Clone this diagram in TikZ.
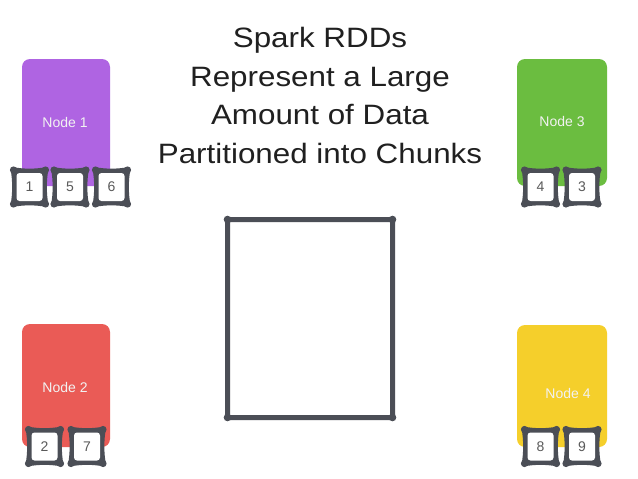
\documentclass[tikz,border=0pt]{standalone}
\usepackage{fontspec}
\setmainfont{Liberation Sans}
\newfontfamily\titlefont[FakeStretch=1.12]{Liberation Sans}
\definecolor{nodepurple}{HTML}{AF64E2}
\definecolor{nodegreen}{HTML}{6BBD40}
\definecolor{nodered}{HTML}{EA5B56}
\definecolor{nodeyellow}{HTML}{F5CF2B}
\definecolor{framegray}{HTML}{4B4E56}
\definecolor{numgray}{HTML}{5A5A5A}
\definecolor{titleblack}{HTML}{202020}
\pgfdeclarelayer{frames}
\pgfdeclarelayer{chunks}
\pgfsetlayers{main,frames,chunks}
\begin{document}
\begin{tikzpicture}[x=1pt,y=-1pt,
  nodebox/.style={rectangle, rounded corners=8pt, minimum width=88pt, inner sep=0pt, outer sep=0pt, draw=none},
  nodelabel/.style={inner sep=0pt, text=white!90!gray, font=\fontsize{14}{16}\selectfont},
  chunk/.style={rectangle, minimum width=26pt, minimum height=28pt, inner sep=0pt, outer sep=0pt,
    fill=white, rounded corners=3pt, text=numgray, font=\fontsize{14}{16}\selectfont},
  chunkframe/.style={fill=framegray},
  rddbox/.style={rectangle, minimum width=165pt, minimum height=198pt, inner sep=0pt, outer sep=0pt,
    draw=framegray, line width=5pt, rounded corners=2pt},
  titletext/.style={align=center, inner sep=0pt, text=titleblack, font=\titlefont\fontsize{28}{38.5}\selectfont}
]
\useasboundingbox (0,0) rectangle (638,479);
\fill[white] (0,0) rectangle (638,479);

% title
\node[titletext, anchor=north] (title) at (320,27.5) {Spark RDDs\\Represent a Large\\Amount of Data\\Partitioned into Chunks};

% machine nodes
\node[nodebox, fill=nodepurple, minimum width=88pt, minimum height=127pt] (n1) at (66,122.5) {};
\node[nodebox, fill=nodegreen, minimum width=90pt, minimum height=127pt] (n3) at (562,122.5) {};
\node[nodebox, fill=nodered, minimum width=88pt, minimum height=123pt] (n2) at (66,385.5) {};
\node[nodebox, fill=nodeyellow, minimum width=90pt, minimum height=122pt] (n4) at (562,386) {};

\node[nodelabel] (l1) at (65,122) {Node 1};
\node[nodelabel] (l3) at (562,121) {Node 3};
\node[nodelabel] (l2) at (65,387) {Node 2};
\node[nodelabel] (l4) at (568,393) {Node 4};

% chunks
\begin{pgfonlayer}{chunks}
\node[chunk] (c1) at (29.5,187) {1};
\node[chunk] (c5) at (70,187) {5};
\node[chunk] (c6) at (111.5,187) {6};
\node[chunk] (c4) at (540.5,187) {4};
\node[chunk] (c3) at (582,187) {3};
\node[chunk] (c2) at (44.5,446.5) {2};
\node[chunk] (c7) at (87,446.5) {7};
\node[chunk] (c8) at (540.5,446.5) {8};
\node[chunk] (c9) at (582,446.5) {9};
\end{pgfonlayer}

\begin{pgfonlayer}{frames}
\foreach \c in {c1,c5,c6,c4,c3,c2,c7,c8,c9} {
  \begin{scope}[shift={(\c.center)}]
    \fill[chunkframe] (-17,-20) .. controls (-6,-17.8) and (6,-17.8) .. (17,-20)
      -- (19,-18) .. controls (16.8,-7) and (16.8,7) .. (19,18)
      -- (17,20) .. controls (6,17.8) and (-6,17.8) .. (-17,20)
      -- (-19,18) .. controls (-16.8,7) and (-16.8,-7) .. (-19,-18) -- cycle;
    \foreach \sx/\sy in {1/1,1/-1,-1/1,-1/-1}
      \fill[chunkframe] (16*\sx,17*\sy) circle (3.6pt);
  \end{scope}
}
\end{pgfonlayer}

% RDD frame
\node[rddbox] (rdd) at (310,318.5) {};
\foreach \a in {north east,north west,south east,south west}
  \fill[framegray] (rdd.\a) circle (3.8pt);
\end{tikzpicture}
\end{document}
